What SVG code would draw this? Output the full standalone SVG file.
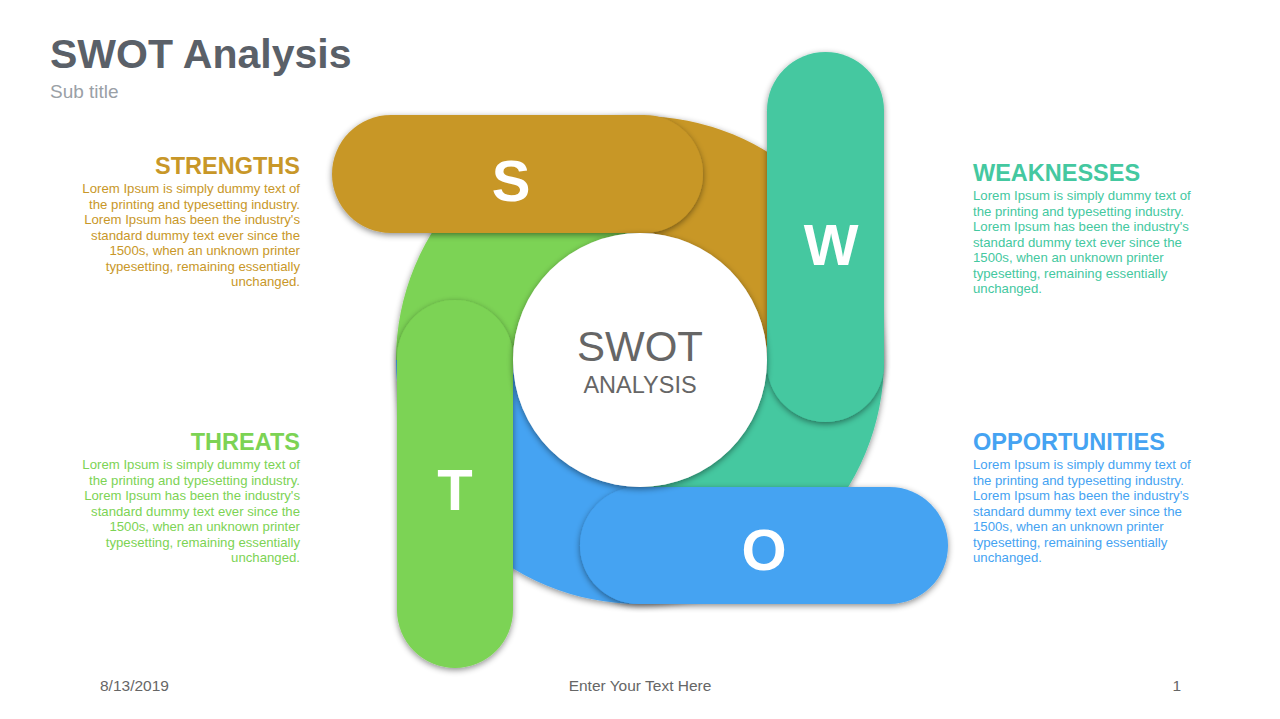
<svg xmlns="http://www.w3.org/2000/svg" width="1280" height="719" viewBox="0 0 1280 719">
<defs>
<filter id="sh" x="-20%" y="-20%" width="140%" height="140%"><feDropShadow dx="0" dy="2" stdDeviation="3" flood-color="#000" flood-opacity="0.45"/></filter>
</defs>
<style>
text{font-family:"Liberation Sans",Arial,sans-serif}
.h{font-size:23.5px;font-weight:bold}
.b{font-size:13.2px}
.L{font-size:58px;font-weight:bold;fill:#fff;text-anchor:middle}
.r{text-anchor:end}
.f{font-size:15.5px;fill:#666}
</style>
<rect width="1280" height="719" fill="#fff"/>
<text x="50" y="68" font-size="41" font-weight="bold" fill="#5a6068">SWOT Analysis</text>
<text x="50" y="98" font-size="19" fill="#9aa0a6">Sub title</text>
<g id="sectors" filter="url(#sh)">
<path d="M640,116 A244,244 0 0 1 884,360 L767,360 A127,127 0 0 0 640,233 Z" fill="#C89728"/>
<path d="M884,360 A244,244 0 0 1 640,604 L640,487 A127,127 0 0 0 767,360 Z" fill="#44C8A0"/>
<path d="M640,604 A244,244 0 0 1 396,360 L513,360 A127,127 0 0 0 640,487 Z" fill="#45A3F2"/>
<path d="M396,360 A244,244 0 0 1 640,116 L640,233 A127,127 0 0 0 513,360 Z" fill="#7CD354"/>
</g>
<g id="S" filter="url(#sh)"><rect x="332" y="115" width="371" height="118" rx="59" fill="#C89728"/><text class="L" x="511" y="201">S</text></g>
<g id="W" filter="url(#sh)"><rect x="767" y="52" width="117" height="370" rx="58.5" fill="#44C8A0"/><text class="L" x="831" y="265">W</text></g>
<g id="O" filter="url(#sh)"><rect x="580" y="487" width="368" height="117" rx="58.5" fill="#45A3F2"/><text class="L" x="764" y="570">O</text></g>
<g id="T" filter="url(#sh)"><rect x="397" y="300" width="116" height="368" rx="58" fill="#7CD354"/><text class="L" x="455" y="510">T</text></g>
<g id="center"><circle cx="640" cy="360" r="127" fill="#fff" filter="url(#sh)"/>
<text x="640" y="361" font-size="42" fill="#666" text-anchor="middle">SWOT</text>
<text x="640" y="393" font-size="23.5" fill="#666" text-anchor="middle">ANALYSIS</text></g>
<g id="strengths" fill="#C89728">
<text class="h r" x="300" y="174">STRENGTHS</text>
<text class="b r" x="300" y="193">Lorem Ipsum is simply dummy text of</text>
<text class="b r" x="300" y="208.5">the printing and typesetting industry.</text>
<text class="b r" x="300" y="224">Lorem Ipsum has been the industry's</text>
<text class="b r" x="300" y="239.5">standard dummy text ever since the</text>
<text class="b r" x="300" y="255">1500s, when an unknown printer</text>
<text class="b r" x="300" y="270.5">typesetting, remaining essentially</text>
<text class="b r" x="300" y="286">unchanged.</text>
</g>
<g id="weaknesses" fill="#44C8A0">
<text class="h" x="973" y="181">WEAKNESSES</text>
<text class="b" x="973" y="200">Lorem Ipsum is simply dummy text of</text>
<text class="b" x="973" y="215.5">the printing and typesetting industry.</text>
<text class="b" x="973" y="231">Lorem Ipsum has been the industry's</text>
<text class="b" x="973" y="246.5">standard dummy text ever since the</text>
<text class="b" x="973" y="262">1500s, when an unknown printer</text>
<text class="b" x="973" y="277.5">typesetting, remaining essentially</text>
<text class="b" x="973" y="293">unchanged.</text>
</g>
<g id="threats" fill="#7CD354">
<text class="h r" x="300" y="450">THREATS</text>
<text class="b r" x="300" y="469">Lorem Ipsum is simply dummy text of</text>
<text class="b r" x="300" y="484.5">the printing and typesetting industry.</text>
<text class="b r" x="300" y="500">Lorem Ipsum has been the industry's</text>
<text class="b r" x="300" y="515.5">standard dummy text ever since the</text>
<text class="b r" x="300" y="531">1500s, when an unknown printer</text>
<text class="b r" x="300" y="546.5">typesetting, remaining essentially</text>
<text class="b r" x="300" y="562">unchanged.</text>
</g>
<g id="opportunities" fill="#45A3F2">
<text class="h" x="973" y="450">OPPORTUNITIES</text>
<text class="b" x="973" y="469">Lorem Ipsum is simply dummy text of</text>
<text class="b" x="973" y="484.5">the printing and typesetting industry.</text>
<text class="b" x="973" y="500">Lorem Ipsum has been the industry's</text>
<text class="b" x="973" y="515.5">standard dummy text ever since the</text>
<text class="b" x="973" y="531">1500s, when an unknown printer</text>
<text class="b" x="973" y="546.5">typesetting, remaining essentially</text>
<text class="b" x="973" y="562">unchanged.</text>
</g>
<g id="connectors"/>
<text class="f" x="100" y="691">8/13/2019</text>
<text class="f" x="640" y="691" text-anchor="middle">Enter Your Text Here</text>
<text class="f" x="1181" y="691" text-anchor="end">1</text>
</svg>
